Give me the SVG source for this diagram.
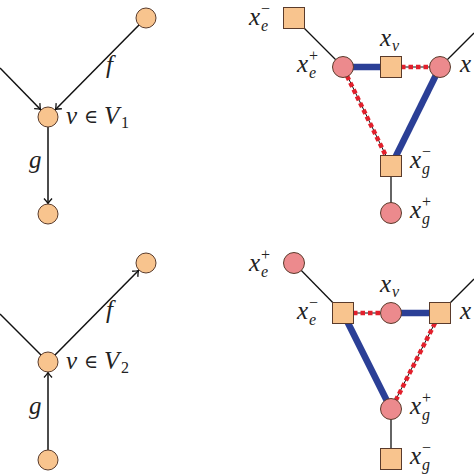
<svg xmlns="http://www.w3.org/2000/svg" width="474" height="474" viewBox="0 0 474 474">
<style>
.edge{stroke:#111;stroke-width:1.5;fill:none}
.thin{stroke:#111;stroke-width:1.3;fill:none}
.blue{stroke:#2b3f96;stroke-width:6.5;fill:none}
.redbase{stroke:#111;stroke-width:1;fill:none}
.red{stroke:#e2202c;stroke-width:4.5;stroke-dasharray:4.5 3;fill:none}
.vert{fill:#f8c48e;stroke:#5a3b2b;stroke-width:1}
.pc{fill:#ec8a8d;stroke:#5a3b2b;stroke-width:1}
.sq{fill:#f8c48e;stroke:#5a3b2b;stroke-width:1}
</style>
<defs>
<marker id="arr" markerWidth="12" markerHeight="12" refX="0" refY="0" viewBox="-6 -6 12 12" orient="auto" markerUnits="userSpaceOnUse">
<path d="M -5 -4 Q -1.5 -0.8 0 0 Q -1.5 0.8 -5 4" stroke="#111" stroke-width="1.3" fill="none"/>
</marker>
</defs>
<rect x="0" y="0" width="474" height="474" fill="#fff"/>

<g id="connectors">
  <line class="edge" x1="0" y1="68" x2="40.5" y2="109.5" marker-end="url(#arr)"/>
  <line class="edge" x1="139" y1="25" x2="55.5" y2="109.5" marker-end="url(#arr)"/>
  <line class="edge" x1="48" y1="127" x2="48" y2="203.5" marker-end="url(#arr)"/>
  <line class="edge" x1="0" y1="314" x2="41" y2="355"/>
  <line class="edge" x1="55" y1="355" x2="138.5" y2="270.5" marker-end="url(#arr)"/>
  <line class="edge" x1="48" y1="450" x2="48" y2="372.5" marker-end="url(#arr)"/>
  <line class="thin" x1="294" y1="18" x2="343" y2="67"/>
  <line class="thin" x1="440" y1="67" x2="474" y2="33"/>
  <line class="blue" x1="343" y1="67" x2="391" y2="67"/>
  <line class="redbase" x1="391" y1="67" x2="440" y2="67"/>
  <line class="red" x1="401" y1="67" x2="431" y2="67"/>
  <line class="redbase" x1="343" y1="67" x2="391" y2="166"/>
  <line class="red" x1="347" y1="76" x2="386" y2="156"/>
  <line class="blue" x1="440" y1="67" x2="391" y2="166"/>
  <line class="thin" x1="391" y1="166" x2="391" y2="213"/>
  <line class="thin" x1="294" y1="263" x2="343" y2="313"/>
  <line class="thin" x1="440" y1="313" x2="474" y2="279"/>
  <line class="redbase" x1="343" y1="313" x2="391" y2="313"/>
  <line class="red" x1="353" y1="313" x2="381" y2="313"/>
  <line class="blue" x1="391" y1="313" x2="440" y2="313"/>
  <line class="blue" x1="343" y1="313" x2="391" y2="409"/>
  <line class="redbase" x1="440" y1="313" x2="391" y2="409"/>
  <line class="red" x1="435" y1="323" x2="396" y2="400"/>
  <line class="thin" x1="391" y1="409" x2="391" y2="459"/>
</g>

<g id="tl-top"><circle class="vert" cx="146" cy="18" r="10"/></g>
<g id="tl-v"><circle class="vert" cx="48" cy="117" r="10"/></g>
<g id="tl-bottom"><circle class="vert" cx="48" cy="214" r="10"/></g>
<g id="bl-top"><circle class="vert" cx="146" cy="263" r="10"/></g>
<g id="bl-v"><circle class="vert" cx="48" cy="362" r="10"/></g>
<g id="bl-bottom"><circle class="vert" cx="48" cy="460" r="10"/></g>

<g id="tr-xe-minus"><rect class="sq" x="283.5" y="7.5" width="21" height="21"/></g>
<g id="tr-xe-plus"><circle class="pc" cx="343" cy="67" r="10.5"/></g>
<g id="tr-xv"><rect class="sq" x="380.5" y="56.5" width="21" height="21"/></g>
<g id="tr-right"><circle class="pc" cx="440" cy="67" r="10.5"/></g>
<g id="tr-xg-minus"><rect class="sq" x="380.5" y="155.5" width="21" height="21"/></g>
<g id="tr-xg-plus"><circle class="pc" cx="391" cy="213" r="10.5"/></g>

<g id="br-xe-plus"><circle class="pc" cx="294" cy="263" r="10.5"/></g>
<g id="br-xe-minus"><rect class="sq" x="332.5" y="302.5" width="21" height="21"/></g>
<g id="br-xv"><circle class="pc" cx="391" cy="313" r="10.5"/></g>
<g id="br-right"><rect class="sq" x="429.5" y="302.5" width="21" height="21"/></g>
<g id="br-xg-plus"><circle class="pc" cx="391" cy="409" r="10.5"/></g>
<g id="br-xg-minus"><rect class="sq" x="380.5" y="448.5" width="21" height="21"/></g>

<g id="labels" fill="#222">
  <text x="106" y="73" font-family="Liberation Serif" font-style="italic" font-size="25">f</text>
  <text x="29" y="168" font-family="Liberation Serif" font-style="italic" font-size="25">g</text>
  <text x="66" y="124" font-family="Liberation Serif" font-style="italic" font-size="25">v</text>
  <text x="84" y="123" font-family="DejaVu Serif" font-size="19">∈</text>
  <text x="104" y="124" font-family="Liberation Serif" font-style="italic" font-size="25">V</text>
  <text x="121" y="128" font-family="Liberation Serif" font-size="16">1</text>
  <text x="106" y="318" font-family="Liberation Serif" font-style="italic" font-size="25">f</text>
  <text x="29" y="414" font-family="Liberation Serif" font-style="italic" font-size="25">g</text>
  <text x="66" y="369" font-family="Liberation Serif" font-style="italic" font-size="25">v</text>
  <text x="84" y="368" font-family="DejaVu Serif" font-size="19">∈</text>
  <text x="104" y="369" font-family="Liberation Serif" font-style="italic" font-size="25">V</text>
  <text x="121" y="373" font-family="Liberation Serif" font-size="16">2</text>

  <text x="249" y="25" font-family="Liberation Serif" font-style="italic" font-size="25">x</text>
  <text x="261" y="14" font-family="Liberation Serif" font-size="16">−</text>
  <text x="261" y="31" font-family="Liberation Serif" font-style="italic" font-size="16">e</text>
  <text x="297" y="72" font-family="Liberation Serif" font-style="italic" font-size="25">x</text>
  <text x="309" y="61" font-family="Liberation Serif" font-size="16">+</text>
  <text x="309" y="78" font-family="Liberation Serif" font-style="italic" font-size="16">e</text>
  <text x="380" y="46" font-family="Liberation Serif" font-style="italic" font-size="25">x</text>
  <text x="392" y="51" font-family="Liberation Serif" font-style="italic" font-size="16">v</text>
  <text x="460" y="72" font-family="Liberation Serif" font-style="italic" font-size="25">x</text>
  <text x="410" y="168" font-family="Liberation Serif" font-style="italic" font-size="25">x</text>
  <text x="422" y="157" font-family="Liberation Serif" font-size="16">−</text>
  <text x="422" y="174" font-family="Liberation Serif" font-style="italic" font-size="16">g</text>
  <text x="410" y="218" font-family="Liberation Serif" font-style="italic" font-size="25">x</text>
  <text x="422" y="207" font-family="Liberation Serif" font-size="16">+</text>
  <text x="422" y="224" font-family="Liberation Serif" font-style="italic" font-size="16">g</text>

  <text x="249" y="271" font-family="Liberation Serif" font-style="italic" font-size="25">x</text>
  <text x="261" y="260" font-family="Liberation Serif" font-size="16">+</text>
  <text x="261" y="277" font-family="Liberation Serif" font-style="italic" font-size="16">e</text>
  <text x="297" y="319" font-family="Liberation Serif" font-style="italic" font-size="25">x</text>
  <text x="309" y="308" font-family="Liberation Serif" font-size="16">−</text>
  <text x="309" y="325" font-family="Liberation Serif" font-style="italic" font-size="16">e</text>
  <text x="380" y="292" font-family="Liberation Serif" font-style="italic" font-size="25">x</text>
  <text x="392" y="297" font-family="Liberation Serif" font-style="italic" font-size="16">v</text>
  <text x="460" y="319" font-family="Liberation Serif" font-style="italic" font-size="25">x</text>
  <text x="410" y="414" font-family="Liberation Serif" font-style="italic" font-size="25">x</text>
  <text x="422" y="403" font-family="Liberation Serif" font-size="16">+</text>
  <text x="422" y="420" font-family="Liberation Serif" font-style="italic" font-size="16">g</text>
  <text x="410" y="464" font-family="Liberation Serif" font-style="italic" font-size="25">x</text>
  <text x="422" y="453" font-family="Liberation Serif" font-size="16">−</text>
  <text x="422" y="470" font-family="Liberation Serif" font-style="italic" font-size="16">g</text>
</g>
</svg>
